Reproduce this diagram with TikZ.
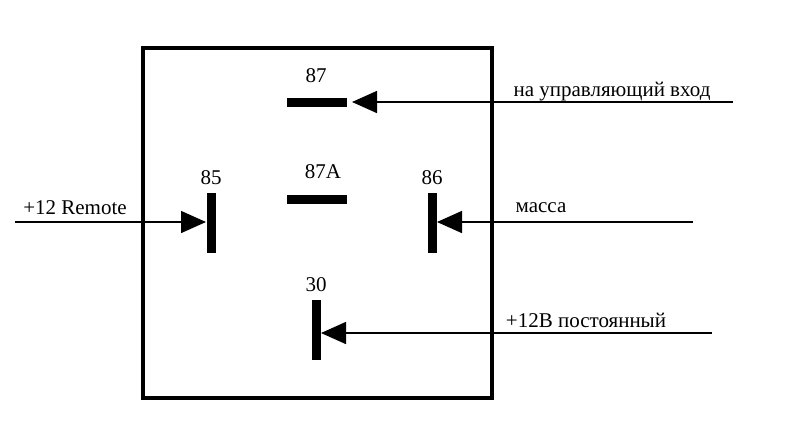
\documentclass[tikz,border=0pt]{standalone}
\usepackage{fontspec}
\setmainfont{Liberation Serif}
\usetikzlibrary{arrows.meta}
\begin{document}
\begin{tikzpicture}[x=1pt,y=-1pt,
  pin/.style={line width=9pt},
  lbl/.style={font=\fontsize{21}{21}\selectfont,inner sep=0pt},
  wire/.style={line width=1.5pt,-{Triangle[length=25pt,width=22pt]}}]
\useasboundingbox (0,0) rectangle (800,440);
\draw[line width=4pt] (143,48) rectangle (492,398);
\draw[pin] (287,102) -- (347,102);
\draw[pin] (287,199) -- (347,199);
\draw[pin] (211,193) -- (211,253);
\draw[pin] (432,193) -- (432,253);
\draw[pin] (316,300) -- (316,360);
\node[lbl] (l87) at (316,76) {87};
\node[lbl] (l87a) at (323,172) {87A};
\node[lbl] (l85) at (211,178) {85};
\node[lbl] (l86) at (432,178) {86};
\node[lbl] (l30) at (316,285) {30};
\coordinate (a1) at (733,102); \coordinate (t1) at (352,102);
\coordinate (a2) at (15,222); \coordinate (t2) at (206,222);
\coordinate (a3) at (693,222); \coordinate (t3) at (437,222);
\coordinate (a4) at (712,333); \coordinate (t4) at (321,333);
\draw[wire] (a1) -- (t1);
\draw[wire] (a2) -- (t2);
\draw[wire] (a3) -- (t3);
\draw[wire] (a4) -- (t4);
\node[lbl] (n1) at (612,92) {на управляющий вход};
\node[lbl] (n2) at (75,208) {+12 Remote};
\node[lbl] (n3) at (541,208) {масса};
\node[lbl] (n4) at (586,320) {+12В постоянный};
\end{tikzpicture}
\end{document}
